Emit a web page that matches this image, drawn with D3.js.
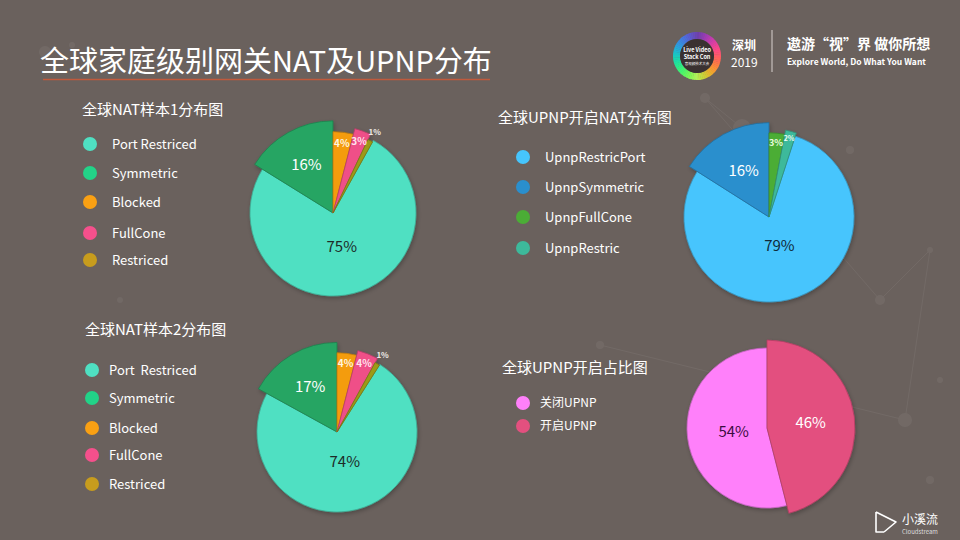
<!DOCTYPE html>
<html>
<head>
<meta charset="utf-8">
<script src="https://cdn.jsdelivr.net/npm/d3@7"></script>
<style>
  body { margin: 0; background: #6a615d; }
  svg { display: block; font-family: "Noto Sans CJK SC", "Noto Sans", sans-serif; }
</style>
</head>
<body>
<div id="chart"></div>
<script>
// ---- data ----
var mainTitle = "全球家庭级别网关NAT及UPNP分布";
var chartTitles = ["全球NAT样本1分布图", "全球UPNP开启NAT分布图", "全球NAT样本2分布图", "全球UPNP开启占比图"];

var nat1Labels = ["Port Restriced", "Symmetric", "Blocked", "FullCone", "Restriced"];
var nat1Values = [75, 16, 4, 3, 1];

var upnpNatLabels = ["UpnpRestricPort", "UpnpSymmetric", "UpnpFullCone", "UpnpRestric"];
var upnpNatValues = [79, 16, 3, 2];

var nat2Labels = ["Port\u00a0\u00a0Restriced", "Symmetric", "Blocked", "FullCone", "Restriced"];
var nat2Values = [74, 17, 4, 4, 1];

var upnpOnLabels = ["关闭UPNP", "开启UPNP"];
var upnpOnValues = [54, 46];

// ---- layout / style ----
var W = 960, H = 540;

var charts = [
  { title: chartTitles[0], titleAt: [82, 110], labels: nat1Labels, values: nat1Values, wrap: 3,
    cx: 333, cy: 213, r: 83,
    pie: ["#4fe0c2", "#25a563", "#f49c0c", "#ef4f88", "#9c9a16"],
    dot: ["#4fe0c2", "#22d388", "#f9a013", "#f5508c", "#c79c1d"],
    pop: [1, 1.11, 0.98, 1.05, 0.98],
    lr: [0.42, 0.66, 0.84, 0.92, 1.1], ls: [15, 15, 10, 10, 8],
    lc: ["#1d2b28", "#ffffff", "#fff6e0", "#ffe4ee", "#f0ece8"],
    lx: 90, ly: [144, 173, 202, 233, 260], tx: 112, fs: 13 },
  { title: chartTitles[1], titleAt: [498, 118], labels: upnpNatLabels, values: upnpNatValues, wrap: 2,
    cx: 769, cy: 217, r: 85,
    pie: ["#46c5fd", "#2a8fcd", "#4bad36", "#3db99b"],
    dot: ["#46c5fd", "#2a8fcd", "#4bad36", "#3db99b"],
    pop: [1, 1.11, 0.99, 1.04],
    lr: [0.36, 0.62, 0.88, 0.95], ls: [15, 15, 9, 7],
    lc: ["#0f2a3a", "#ffffff", "#eaffe0", "#f0fff8"],
    lx: 523, ly: [157, 187, 217, 248], tx: 545, fs: 13 },
  { title: chartTitles[2], titleAt: [85, 330], labels: nat2Labels, values: nat2Values, wrap: 3,
    cx: 337, cy: 432, r: 80,
    pie: ["#4fe0c2", "#25a563", "#f49c0c", "#ef4f88", "#9c9a16"],
    dot: ["#4fe0c2", "#22d388", "#f9a013", "#f5508c", "#c79c1d"],
    pop: [1, 1.12, 0.99, 1.05, 0.99],
    lr: [0.39, 0.66, 0.86, 0.92, 1.12], ls: [15, 15, 10, 10, 8],
    lc: ["#1d2b28", "#ffffff", "#fff6e0", "#ffe4ee", "#f0ece8"],
    lx: 92, ly: [370, 398, 428, 455, 484], tx: 109, fs: 13 },
  { title: chartTitles[3], titleAt: [502, 368], labels: upnpOnLabels, values: upnpOnValues, wrap: 1,
    cx: 767, cy: 428, r: 80,
    pie: ["#ff80fa", "#e3507f"],
    dot: ["#ff80fa", "#e3507f"],
    pop: [1, 1.1],
    lr: [0.42, 0.55], ls: [15, 15],
    lc: ["#3a0c40", "#ffffff"],
    lx: 523, ly: [403, 426], tx: 540, fs: 12 }
];

var svg = d3.select("#chart").append("svg")
    .attr("width", W)
    .attr("height", H);

var defs = svg.append("defs");
defs.append("filter").attr("id", "shadow")
    .attr("x", "-20%").attr("y", "-20%").attr("width", "140%").attr("height", "140%")
  .append("feDropShadow")
    .attr("dx", 1).attr("dy", 2).attr("stdDeviation", 2)
    .attr("flood-color", "#000").attr("flood-opacity", 0.25);

svg.append("rect").attr("width", W).attr("height", H).attr("fill", "#6a615d");

// faint network / bokeh decoration of the slide background
var bokeh = [[45, 52, 6], [72, 45, 3], [742, 128, 9], [705, 98, 5], [880, 300, 5], [930, 250, 3],
             [905, 420, 7], [600, 345, 4], [850, 150, 4], [940, 380, 3], [120, 300, 3], [930, 480, 4]];
var deco = svg.append("g").attr("opacity", 0.05);
deco.selectAll("line").data(d3.pairs(bokeh.slice(2, 8)))
  .enter().append("line")
    .attr("x1", function (d) { return d[0][0]; }).attr("y1", function (d) { return d[0][1]; })
    .attr("x2", function (d) { return d[1][0]; }).attr("y2", function (d) { return d[1][1]; })
    .attr("stroke", "#fff").attr("stroke-width", 1);
deco.selectAll("circle").data(bokeh)
  .enter().append("circle")
    .attr("cx", function (d) { return d[0]; }).attr("cy", function (d) { return d[1]; })
    .attr("r", function (d) { return d[2]; })
    .attr("fill", "#fff");

// main title
svg.append("text")
    .attr("x", 40).attr("y", 72)
    .attr("fill", "#fff")
    .style("font-size", "29px")
    .text(mainTitle);
svg.append("line")
    .attr("x1", 43).attr("x2", 490).attr("y1", 79.5).attr("y2", 79.5)
    .attr("stroke", "#c05a3c").attr("stroke-width", 1.5);

// draw each pie + legend
charts.forEach(function (c) {
  var g = svg.append("g");
  var total = d3.sum(c.values);
  // the last `wrap` slices sit clockwise right after 12 o'clock
  var start = d3.sum(c.values.slice(c.values.length - c.wrap)) / total * 2 * Math.PI;

  var pie = d3.pie().sort(null).value(function (d) { return d; })
      .startAngle(start).endAngle(start + 2 * Math.PI);
  var slices = pie(c.values);

  var arc = d3.arc().innerRadius(0)
      .outerRadius(function (d) { return c.r * c.pop[d.index]; });

  var pg = g.append("g")
      .attr("transform", "translate(" + c.cx + "," + c.cy + ")")
      .attr("filter", "url(#shadow)");

  pg.selectAll("path")
      .data(slices)
    .enter().append("path")
      .attr("d", arc)
      .attr("fill", function (d) { return c.pie[d.index]; })
      .attr("stroke", function (d) { return d3.color(c.pie[d.index]).darker(0.7); })
      .attr("stroke-width", 0.8)
      .attr("stroke-linejoin", "round");

  g.append("g")
      .attr("transform", "translate(" + c.cx + "," + c.cy + ")")
    .selectAll("text")
      .data(slices)
    .enter().append("text")
      .attr("transform", function (d) {
        var a = (d.startAngle + d.endAngle) / 2, rr = c.r * c.lr[d.index];
        return "translate(" + (Math.sin(a) * rr) + "," + (-Math.cos(a) * rr) + ")";
      })
      .attr("text-anchor", "middle")
      .attr("dy", "0.35em")
      .attr("fill", function (d) { return c.lc[d.index]; })
      .style("font-size", function (d) { return c.ls[d.index] + "px"; })
      .style("font-weight", function (d) { return c.ls[d.index] < 12 ? "bold" : "normal"; })
      .text(function (d) { return d.data + "%"; });

  // chart title
  g.append("text")
      .attr("x", c.titleAt[0]).attr("y", c.titleAt[1])
      .attr("dy", "0.35em")
      .attr("fill", "#fff")
      .style("font-size", "15px")
      .text(c.title);

  // legend
  var lg = g.selectAll("g.legend")
      .data(c.labels)
    .enter().append("g")
      .attr("class", "legend")
      .attr("transform", function (d, i) { return "translate(" + c.lx + "," + c.ly[i] + ")"; });
  lg.append("circle")
      .attr("r", 7)
      .attr("fill", function (d, i) { return c.dot[i]; });
  lg.append("text")
      .attr("x", c.tx - c.lx)
      .attr("dy", "0.35em")
      .attr("fill", "#fff")
      .style("font-size", c.fs + "px")
      .text(function (d) { return d; });
});

// top-right event logo
var logo = svg.append("g").attr("transform", "translate(697,56)");
var ring = d3.arc().innerRadius(17).outerRadius(24);
d3.range(72).forEach(function (i) {
  logo.append("path")
      .attr("d", ring({ startAngle: i / 72 * 2 * Math.PI, endAngle: (i + 1.2) / 72 * 2 * Math.PI }))
      .attr("fill", d3.interpolateRainbow(i / 72));
});
logo.append("circle").attr("r", 17).attr("fill", "#3a3131");
[["Live Video", -4], ["Stack Con", 3]].forEach(function (t) {
  logo.append("text").attr("y", t[1]).attr("text-anchor", "middle")
      .attr("fill", "#fff").style("font-size", "5.5px").style("font-weight", "bold")
      .text(t[0]);
});
logo.append("text").attr("y", 9).attr("text-anchor", "middle")
    .attr("fill", "#fff").style("font-size", "3.5px").text("音视频技术大会");

svg.append("text").attr("x", 732).attr("y", 50).attr("fill", "#fff")
    .style("font-size", "12px").style("font-weight", "bold").text("深圳");
svg.append("text").attr("x", 731).attr("y", 67).attr("fill", "#fff")
    .style("font-size", "12px").text("2019");
svg.append("line").attr("x1", 772).attr("x2", 772).attr("y1", 30).attr("y2", 72)
    .attr("stroke", "#d8d2cf").attr("stroke-width", 1);
svg.append("text").attr("x", 787).attr("y", 49).attr("fill", "#fff")
    .style("font-size", "14px").style("font-weight", "bold").text("遨游“视”界 做你所想");
svg.append("text").attr("x", 787).attr("y", 65).attr("fill", "#fff")
    .style("font-size", "8.5px").style("font-weight", "bold").text("Explore World, Do What You Want");

// bottom-right company logo
var cl = svg.append("g").attr("transform", "translate(874,510)");
cl.append("path")
    .attr("d", "M2,2 L2,22 L10,22 M2,2 L22,12 L10,22")
    .attr("fill", "none").attr("stroke", "#fff").attr("stroke-width", 1.6)
    .attr("stroke-linejoin", "round");
cl.append("text").attr("x", 28).attr("y", 14).attr("fill", "#fff")
    .style("font-size", "12px").text("小溪流");
cl.append("text").attr("x", 28).attr("y", 24).attr("fill", "#ddd")
    .style("font-size", "6px").text("Cloudstream");
</script>
</body>
</html>
